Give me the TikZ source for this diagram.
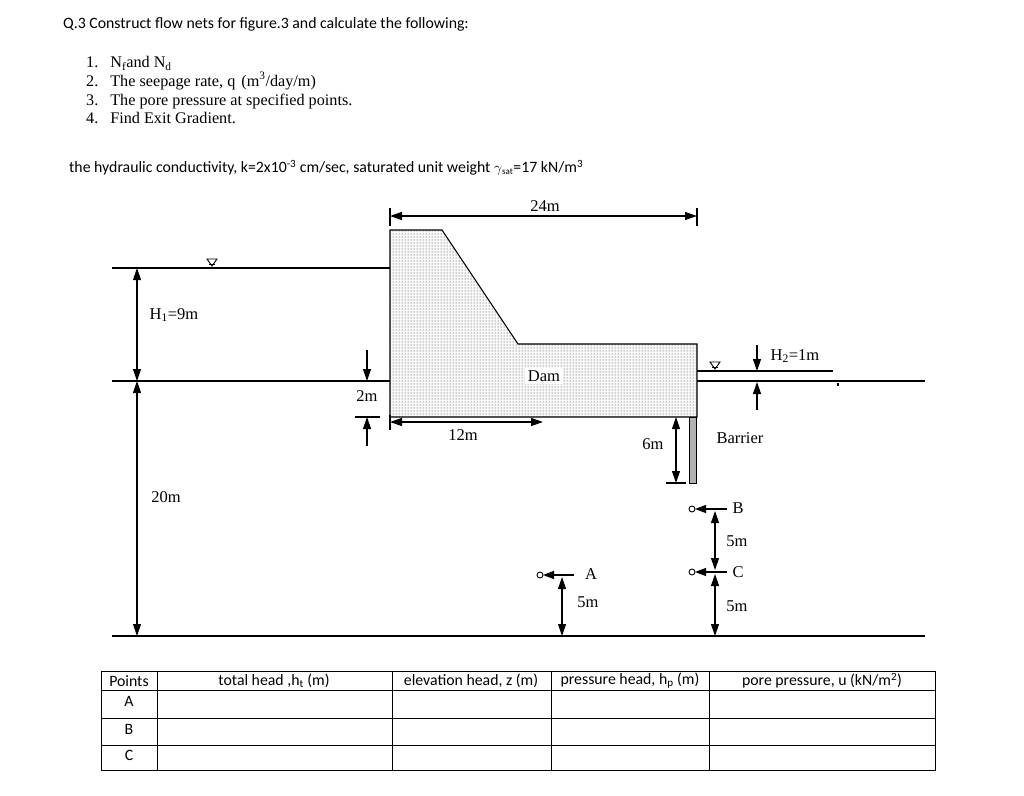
\documentclass[tikz,border=0pt]{standalone}
\usepackage{fontspec}
\setmainfont{Liberation Serif}
\newfontfamily\calfont{Carlito}
\usetikzlibrary{arrows.meta,patterns}
\begin{document}
\begin{tikzpicture}[x=1pt,y=-1pt,
  ln/.style={line width=1.1pt},
  dim/.style={line width=1.1pt,{Triangle[length=12pt,width=8pt]}-{Triangle[length=12pt,width=8pt]}},
  ar/.style={line width=1.1pt,-{Triangle[length=12pt,width=8pt]}},
  lab/.style={font=\fontsize{16.5}{16.5}\selectfont,inner sep=1pt},
  tx/.style={font=\calfont\fontsize{15.8}{15.8}\selectfont,inner sep=1pt},
  wl/.style={line width=0.9pt}]
\useasboundingbox (0,0) rectangle (1024,795);
% header text
\node[tx,anchor=west] (title) at (62,24) {Q.3 Construct flow nets for figure.3 and calculate the following:};
\node[anchor=north west,font=\fontsize{16.2}{18.8}\selectfont,align=left,inner sep=0] (list) at (86,56) {%
1.\hspace{12pt}N\textsubscript{f}and N\textsubscript{d}\\
2.\hspace{12pt}The seepage rate, q\hspace{6pt}(m\textsuperscript{3}/day/m)\\
3.\hspace{12pt}The pore pressure at specified points.\\
4.\hspace{12pt}Find Exit Gradient.};
\node[tx,anchor=west] (hk) at (68,168) {the hydraulic conductivity, k=2x10\textsuperscript{-3} cm/sec, saturated unit weight $\gamma$\textsubscript{\fontsize{9}{9}\selectfont sat}=17 kN/m\textsuperscript{3}};
% dam
\path[fill=gray!5] (390,230) -- (442,230) -- (518,344) -- (697,344) -- (697,417) -- (390,417) -- cycle;
\path[pattern=dots,pattern color=black!80] (390,230) -- (442,230) -- (518,344) -- (697,344) -- (697,417) -- (390,417) -- cycle;
\draw[ln] (390,230) -- (442,230) -- (518,344) -- (697,344) -- (697,417) -- (390,417) -- cycle;
\node[lab,fill=white,inner sep=3pt] (dam) at (544,376) {Dam};
% water and ground lines
\draw[ln] (112,268) -- (390,268);
\draw[ln] (112,381) -- (390,381);
\draw[ln] (697,381) -- (925,381);
\draw[ln] (697,371) -- (833,371);
\draw[ln] (112,636) -- (925,636);
\draw[ln] (838,383) -- (838,386);
% water symbols
\foreach \x/\y in {212/266,715/369}{
  \draw[wl] (\x-5,\y-7) -- (\x+5,\y-7) -- (\x,\y) -- cycle;
  \draw[wl] (\x-3,\y-2) -- (\x+3,\y-2);
  \draw[wl] (\x-2,\y+1) -- (\x+2,\y+1);
}
% barrier
\draw[line width=0.8pt,fill=gray!60] (689,417) rectangle (696,483);
\node[lab] (bar) at (740,438) {Barrier};
% left dims
\coordinate (l1) at (137,268); \coordinate (l2) at (137,381); \coordinate (l3) at (137,636);
\draw[dim] (l1) -- (l2);
\draw[dim] (l2) -- (l3);
\node[lab] (h1) at (174,315) {H\textsubscript{1}=9m};
\node[lab] (d20) at (166,497) {20m};
% 24m
\coordinate (t1) at (390,216); \coordinate (t2) at (697,216);
\draw[ln] (390,208) -- (390,226); \draw[ln] (697,208) -- (697,226);
\draw[dim] (t1) -- (t2);
\node[lab] (d24) at (545,206) {24m};
% 2m
\coordinate (m1) at (367,350); \coordinate (m2) at (367,381);
\coordinate (m3) at (367,446); \coordinate (m4) at (367,417);
\draw[ar] (m1) -- (m2); \draw[ar] (m3) -- (m4);
\draw[ln] (355,381) -- (380,381); \draw[ln] (355,417) -- (380,417);
\node[lab] (d2) at (367,396) {2m};
% 12m
\draw[ln] (390,415) -- (390,430);
\coordinate (w1) at (390,422); \coordinate (w2) at (543,422);
\draw[dim] (w1) -- (w2);
\node[lab] (d12) at (463,435) {12m};
% 6m
\coordinate (s1) at (676,417); \coordinate (s2) at (676,483);
\draw[dim] (s1) -- (s2);
\draw[ln] (666,483) -- (686,483);
\node[lab] (d6) at (653,444) {6m};
% H2
\coordinate (p1) at (757,345); \coordinate (p2) at (757,371);
\coordinate (p3) at (757,410); \coordinate (p4) at (757,382);
\draw[ar] (p1) -- (p2); \draw[ar] (p3) -- (p4);
\node[lab] (h2) at (795,356) {H\textsubscript{2}=1m};
% points
\foreach \cx/\cy/\lx in {540/575/562, 692/509/715, 692/572/715}{
  \draw[line width=0.9pt] (\cx,\cy) circle (3pt);
  \draw[line width=1.1pt,{Triangle[length=11pt,width=8pt]}-] (\cx+3,\cy) -- (\lx+12,\cy);
}
\node[lab] (A) at (591,574) {A};
\node[lab] (B) at (738,508) {B};
\node[lab] (C) at (738,572) {C};
\coordinate (a1) at (562,577); \coordinate (a2) at (562,636);
\draw[dim] (a1) -- (a2);
\node[lab] (a5) at (588,602) {5m};
\coordinate (b1) at (715,511); \coordinate (b2) at (715,570);
\draw[dim] (b1) -- (b2);
\node[lab] (b5) at (737,541) {5m};
\coordinate (c1) at (715,574); \coordinate (c2) at (715,636);
\draw[dim] (c1) -- (c2);
\node[lab] (c5) at (737,606) {5m};
% table
\draw[line width=0.9pt] (101,671) rectangle (935,770);
\foreach \y in {690,718,745} \draw[line width=0.8pt] (101,\y) -- (935,\y);
\foreach \x in {157,392,551,709} \draw[line width=0.8pt] (\x,671) -- (\x,770);
\node[tx] (th1) at (129,681) {Points};
\node[tx] (th2) at (274,681) {total head ,h\textsubscript{t} (m)};
\node[tx] (th3) at (471,681) {elevation head, z (m)};
\node[tx] (th4) at (630,681) {pressure head, h\textsubscript{p} (m)};
\node[tx] (th5) at (822,681) {pore pressure, u (kN/m\textsuperscript{2})};
\node[tx] (rA) at (129,701) {A};
\node[tx] (rB) at (129,729) {B};
\node[tx] (rC) at (129,755) {C};
\end{tikzpicture}
\end{document}
